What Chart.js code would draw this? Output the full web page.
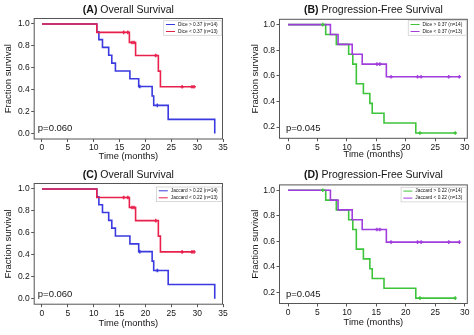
<!DOCTYPE html>
<html lang="en">
<head>
<meta charset="UTF-8">
<title>Kaplan-Meier curves</title>
<script src="https://cdn.jsdelivr.net/npm/chart.js@4"></script>
<style>
    body {
        margin: 0;
        background: #fff;
        width: 474px;
        height: 335px;
        position: relative;
        overflow: hidden;
    }
    canvas {
        position: absolute;
    }
</style>
</head>
<body>
<canvas id="cA" width="237" height="168" style="left:0;top:0"></canvas>
<canvas id="cB" width="237" height="168" style="left:237px;top:0"></canvas>
<canvas id="cC" width="237" height="167" style="left:0;top:168px"></canvas>
<canvas id="cD" width="237" height="167" style="left:237px;top:168px"></canvas>
<script>
// overall survival, high score group (n=14)
const osHighTimes = [0, 10.6, 11.0, 11.7, 12.9, 13.5, 14.2, 17.0, 18.7, 21.3, 21.6, 24.4, 33.4];
const osHighSurv  = [1, 0.929, 0.857, 0.786, 0.714, 0.643, 0.571, 0.5, 0.429, 0.343, 0.257, 0.129, 0];
const osHighCensor = [18.9, 22.3];
// overall survival, low score group (n=13)
const osLowTimes = [0, 10.6, 16.9, 18.1, 22.5, 22.9, 29.4];
const osLowSurv  = [1, 0.923, 0.831, 0.712, 0.570, 0.427, 0.427];
const osLowCensor = [15.8, 16.6, 17.4, 17.8, 22.0, 27.1, 29.0, 29.4];
// progression-free survival, high score group (n=14)
const pfsHighTimes = [0, 6.4, 8.2, 10.3, 11.0, 11.6, 12.8, 13.9, 14.3, 16.3, 21.7, 28.4];
const pfsHighSurv  = [1, 0.923, 0.846, 0.769, 0.692, 0.538, 0.462, 0.385, 0.308, 0.231, 0.154, 0.154];
const pfsHighCensor = [5.9, 22.4, 28.4];
// progression-free survival, low score group (n=13)
const pfsLowTimes = [0, 7.2, 8.5, 10.9, 12.6, 16.7, 29.1];
const pfsLowSurv  = [1, 0.923, 0.846, 0.769, 0.692, 0.593, 0.593];
const pfsLowCensor = [15.1, 15.6, 17.5, 22.0, 22.6, 27.3, 29.1];

const osXTicks = [0, 5, 10, 15, 20, 25, 30, 35];
const pfsXTicks = [0, 5, 10, 15, 20, 25, 30];
const osYTicks = [0, 0.2, 0.4, 0.6, 0.8, 1.0];
const pfsYTicks = [0.2, 0.4, 0.6, 0.8, 1.0];

const FONT = '"Liberation Sans", Arial, Helvetica, sans-serif';
const TXT = '#151515';
const AXIS = '#555';

function survAt(times, surv, t) {
    let s = surv[0];
    for (let i = 0; i < times.length; i++) {
        if (times[i] <= t) s = surv[i];
    }
    return s;
}

function curve(label, times, surv, color, order) {
    return {
        label: label,
        data: times.map((t, i) => ({ x: t, y: surv[i] })),
        borderColor: color,
        backgroundColor: color,
        borderWidth: 1.6,
        stepped: 'before',
        pointRadius: 0,
        fill: false,
        order: order
    };
}

function censors(times, surv, censorTimes, color) {
    return {
        type: 'scatter',
        label: '',
        data: censorTimes.map(t => ({ x: t, y: survAt(times, surv, t) })),
        borderColor: color,
        backgroundColor: color,
        pointStyle: 'cross',
        pointRadius: 1.8,
        borderWidth: 1.4,
        order: 0
    };
}

const panelDeco = {
    id: 'panelDeco',
    afterDraw(chart, args, o) {
        const ctx = chart.ctx;
        const a = chart.chartArea;
        ctx.save();
        // full box round the axes
        ctx.strokeStyle = AXIS;
        ctx.lineWidth = 1;
        ctx.strokeRect(a.left, a.top, a.right - a.left, a.bottom - a.top);

        // title: bold tag + normal text
        ctx.fillStyle = TXT;
        ctx.textBaseline = 'middle';
        ctx.textAlign = 'left';
        ctx.font = 'bold 10.5px ' + FONT;
        const w1 = ctx.measureText(o.tag + ' ').width;
        ctx.font = '10.5px ' + FONT;
        const w2 = ctx.measureText(o.title).width;
        const x0 = (a.left + a.right) / 2 - (w1 + w2) / 2;
        ctx.font = 'bold 10.5px ' + FONT;
        ctx.fillText(o.tag, x0, o.titleY);
        ctx.font = '10.5px ' + FONT;
        ctx.fillText(o.title, x0 + w1, o.titleY);

        // p value
        ctx.font = '9.5px ' + FONT;
        ctx.fillText(o.pText, a.left + o.pX, a.bottom - o.pY);

        // legend box
        const items = chart.data.datasets.filter(d => d.label);
        ctx.font = '4.8px ' + FONT;
        const tw = Math.max(...items.map(d => ctx.measureText(d.label).width));
        const lineLen = 9, gap = 3, padL = 2.3, padR = 4, rowH = 7, padY = 0.3;
        const bw = padL + lineLen + gap + tw + padR;
        const bh = padY * 2 + rowH * items.length;
        const bx = a.right - o.legDx - bw;
        const by = a.top + o.legDy;
        ctx.fillStyle = '#fff';
        ctx.fillRect(bx, by, bw, bh);
        ctx.strokeStyle = '#d0d0d0';
        ctx.lineWidth = 0.8;
        ctx.strokeRect(bx, by, bw, bh);
        items.forEach((d, i) => {
            const y = by + padY + rowH * (i + 0.5);
            ctx.strokeStyle = d.borderColor;
            ctx.lineWidth = 1;
            ctx.beginPath();
            ctx.moveTo(bx + padL, y);
            ctx.lineTo(bx + padL + lineLen, y);
            ctx.stroke();
            ctx.fillStyle = TXT;
            ctx.fillText(d.label, bx + padL + lineLen + gap, y);
        });
        ctx.restore();
    }
};

function makePanel(id, p) {
    const xTicks = p.xTicks, yTicks = p.yTicks;
    new Chart(document.getElementById(id), {
        type: 'line',
        data: { datasets: p.datasets },
        options: {
            responsive: false,
            animation: false,
            devicePixelRatio: 1,
            layout: { padding: { top: p.top, right: p.right, left: 0, bottom: 0 } },
            plugins: {
                legend: { display: false },
                tooltip: { enabled: false },
                panelDeco: p.deco
            },
            scales: {
                x: {
                    type: 'linear',
                    min: p.xMin,
                    max: p.xMax,
                    afterBuildTicks: s => { s.ticks = xTicks.map(v => ({ value: v })); },
                    afterFit: s => { s.height = p.xHeight; },
                    ticks: {
                        font: { family: FONT, size: 8.5 },
                        color: TXT,
                        padding: 1,
                        maxRotation: 0,
                        autoSkip: false
                    },
                    grid: { drawOnChartArea: false, drawTicks: true, tickLength: 3, color: AXIS },
                    border: { display: false },
                    title: {
                        display: true,
                        text: 'Time (months)',
                        font: { family: FONT, size: 9.3 },
                        color: TXT,
                        padding: { top: 0, bottom: p.xTitlePad }
                    }
                },
                y: {
                    type: 'linear',
                    min: p.yMin,
                    max: p.yMax,
                    afterBuildTicks: s => { s.ticks = yTicks.map(v => ({ value: v })); },
                    afterFit: s => { s.width = p.left; },
                    ticks: {
                        font: { family: FONT, size: 8.5 },
                        color: TXT,
                        padding: 1.5,
                        callback: v => v.toFixed(1)
                    },
                    grid: { drawOnChartArea: false, drawTicks: true, tickLength: 3, color: AXIS },
                    border: { display: false },
                    title: {
                        display: true,
                        text: 'Fraction survival',
                        font: { family: FONT, size: 9.5 },
                        color: TXT,
                        padding: { top: p.yTitlePad, bottom: 0 }
                    }
                }
            }
        },
        plugins: [panelDeco]
    });
}

const BLUE = '#3a3ae0', RED = '#e8204c', GREEN = '#3ec43a', PURPLE = '#a03ddc';

function osSets(word, cut) {
    return [
        curve(word + ' > ' + cut + ' (n=14)', osHighTimes, osHighSurv, BLUE, 2),
        curve(word + ' < ' + cut + ' (n=13)', osLowTimes, osLowSurv, RED, 1),
        censors(osHighTimes, osHighSurv, osHighCensor, BLUE),
        censors(osLowTimes, osLowSurv, osLowCensor, RED)
    ];
}

function pfsSets(word, cut) {
    return [
        curve(word + ' > ' + cut + ' (n=14)', pfsHighTimes, pfsHighSurv, GREEN, 2),
        curve(word + ' < ' + cut + ' (n=13)', pfsLowTimes, pfsLowSurv, PURPLE, 1),
        censors(pfsHighTimes, pfsHighSurv, pfsHighCensor, GREEN),
        censors(pfsLowTimes, pfsLowSurv, pfsLowCensor, PURPLE)
    ];
}

makePanel('cA', {
    datasets: osSets('Dice', '0.37'),
    xTicks: osXTicks, yTicks: osYTicks,
    xMin: -1.5, xMax: 34.9, yMin: -0.05, yMax: 1.05,
    top: 18.5, right: 14.5, left: 34.2, xHeight: 29, xTitlePad: 5.6, yTitlePad: 2.4,
    deco: { tag: '(A)', title: 'Overall Survival', titleY: 10, pText: 'p=0.060', pX: 3.6, pY: 11, legDx: 0.8, legDy: 2.2 }
});
makePanel('cB', {
    datasets: pfsSets('Dice', '0.37'),
    xTicks: pfsXTicks, yTicks: pfsYTicks,
    xMin: -1.45, xMax: 30.45, yMin: 0.112, yMax: 1.042,
    top: 19.3, right: 6.7, left: 42.5, xHeight: 29.7, xTitlePad: 7.6, yTitlePad: 12.6,
    deco: { tag: '(B)', title: 'Progression-Free Survival', titleY: 10, pText: 'p=0.045', pX: 6.5, pY: 10, legDx: 1, legDy: 1.4 }
});
makePanel('cC', {
    datasets: osSets('Jaccard', '0.22'),
    xTicks: osXTicks, yTicks: osYTicks,
    xMin: -1.5, xMax: 34.9, yMin: -0.05, yMax: 1.05,
    top: 15.5, right: 14.5, left: 34.2, xHeight: 30.8, xTitlePad: 5.9, yTitlePad: 2.7,
    deco: { tag: '(C)', title: 'Overall Survival', titleY: 7.3, pText: 'p=0.060', pX: 3.6, pY: 9.5, legDx: 0.8, legDy: 3.5 }
});
makePanel('cD', {
    datasets: pfsSets('Jaccard', '0.22'),
    xTicks: pfsXTicks, yTicks: pfsYTicks,
    xMin: -1.45, xMax: 30.45, yMin: 0.112, yMax: 1.042,
    top: 16.9, right: 6.7, left: 42.5, xHeight: 31.5, xTitlePad: 6.6, yTitlePad: 12.6,
    deco: { tag: '(D)', title: 'Progression-Free Survival', titleY: 6.7, pText: 'p=0.045', pX: 6.5, pY: 8.8, legDx: 1, legDy: 2.4 }
});
</script>
</body>
</html>
